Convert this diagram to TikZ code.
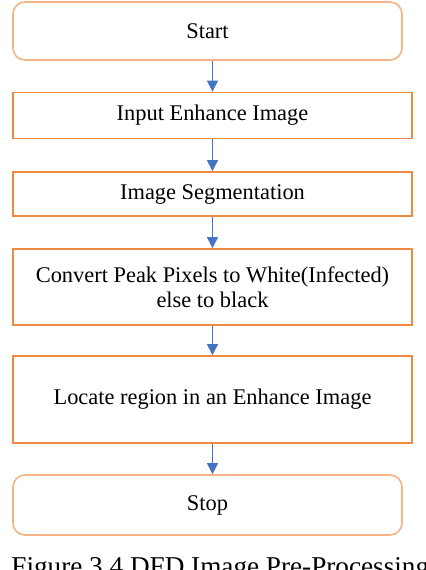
\documentclass[tikz,border=0pt]{standalone}
\usepackage{fontspec}
\setmainfont{Liberation Serif}
\usetikzlibrary{arrows.meta}
\definecolor{termline}{RGB}{245, 180, 135}
\definecolor{procline}{RGB}{239, 138, 66}
\definecolor{flowline}{RGB}{68, 114, 196}

\begin{document}
\begin{tikzpicture}[x=0.5pt, y=-0.5pt,
		termbox/.style={draw=termline, line width=0.8pt, rounded corners=6pt,
			minimum width=194.5pt, inner sep=0pt, align=center,
			font=\fontsize{11.2}{12.5}\selectfont},
		procbox/.style={draw=procline, line width=0.9pt,
			minimum width=199.5pt, inner sep=0pt, align=center,
			font=\fontsize{11.2}{12.5}\selectfont},
		flow/.style={flowline, line width=0.5pt, -{Triangle[width=5.5pt, length=5.5pt]}}]
			\def\tx{207.5}
			\def\px{212.5}
			\useasboundingbox (0,0) rectangle (426,570);
			\clip (0,0) rectangle (426,570);

			% terminals
			\node[termbox, minimum height=29pt] (start) at (\tx, 31) {Start};
			\node[termbox, minimum height=30pt] (stop) at (\tx, 505) {Stop};

			% processing steps
			\node[procbox, minimum height=23pt] (input) at (\px, 115.5) {Input Enhance Image};
			\node[procbox, minimum height=22pt] (segment) at (\px, 194) {Image Segmentation};
			\node[procbox, minimum height=38pt] (convert) at (\px, 287)
				{Convert Peak Pixels to White(Infected)\\else to black};
			\node[procbox, minimum height=43.5pt] (locate) at (\px, 399.5)
				{Locate region in an Enhance Image};

			% arrows
			\draw[flow] (input.north |- start.south) -- (input.north);
			\draw[flow] (input) -- (segment);
			\draw[flow] (segment) -- (convert);
			\draw[flow] (convert) -- (locate);
			\draw[flow] (locate.south) -- (locate.south |- stop.north);

			\node[anchor=base west, inner sep=0pt, font=\fontsize{13.6}{15}\selectfont]
				(caption) at (11, 575) {Figure 3.4 DFD Image Pre-Processing};

		\end{tikzpicture}
\end{document}
